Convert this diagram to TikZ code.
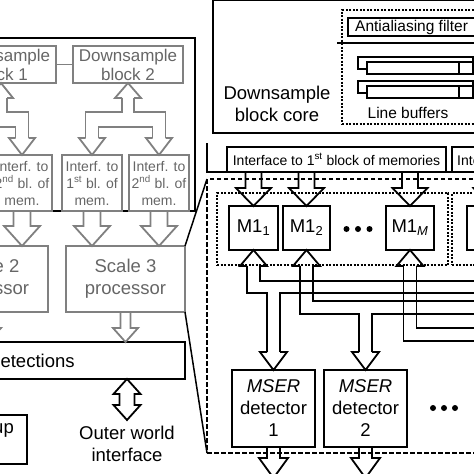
\documentclass[tikz,border=0pt]{standalone}
\usepackage{fontspec}
\setmainfont{Liberation Sans}
\usetikzlibrary{positioning,calc}

\definecolor{boxgray}{gray}{0.5}
\definecolor{txtgray}{gray}{0.4}

\newcommand{\fbig}{\fontsize{18.5}{22}\selectfont}
\newcommand{\fmid}{\fontsize{17}{19}\selectfont}
\newcommand{\fbuf}{\fontsize{15.5}{18}\selectfont}
\newcommand{\fsmall}{\fontsize{14}{17}\selectfont}

% hollow arrows: [style]{tip}{length}{shaft half gap}{head half width}{head length}
\newcommand{\arrdown}[6][]{\draw[#1,shift={#2}] (-#4,-#3) -- (-#4,-#6) -- (-#5,-#6) -- (0,0) -- (#5,-#6) -- (#4,-#6) -- (#4,-#3);}
\newcommand{\arrup}[6][]{\draw[#1,shift={#2}] (-#4,#3) -- (-#4,#6) -- (-#5,#6) -- (0,0) -- (#5,#6) -- (#4,#6) -- (#4,#3);}

\begin{document}
\begin{tikzpicture}[x=1pt,y=-1pt,
  graybox/.style={draw=boxgray, line width=1.8pt, text=txtgray, align=center, inner sep=0pt, outer sep=0pt},
  blkbox/.style={draw, line width=2.6pt, align=center, inner sep=0pt, outer sep=0pt},
  thinbox/.style={draw, line width=1.6pt, inner sep=0pt, outer sep=0pt},
  dotbox/.style={draw, line width=1.5pt, dash pattern=on 2pt off 1.5pt, inner sep=0pt, outer sep=0pt},
  dashbox/.style={draw, line width=2pt, dash pattern=on 4.5pt off 2.5pt, inner sep=0pt, outer sep=0pt},
  garrow/.style={draw=boxgray, line width=1.8pt},
  barrow/.style={line width=1.8pt},
  wire/.style={line width=1.8pt},
  txt/.style={align=center, inner sep=0pt}]
\useasboundingbox (0,0) rectangle (474,474);
\clip (0,0) rectangle (474,474);

% ---- left: downsample unit and scale processors
\node[blkbox, minimum width=205pt, minimum height=173pt] (dsunit) at (92.5,124.5) {};
\node[graybox, font=\fmid, minimum width=110pt, minimum height=37pt] (ds1) at (1,64.5) {Downsample\\block 1};
\node[graybox, font=\fmid, minimum width=110pt, minimum height=37pt] (ds2) at (128,64.5) {Downsample\\block 2};
\draw[garrow] (ds1) -- (ds2);

\coordinate (if0) at (-48,155);
\node[graybox, font=\fsmall, minimum width=60pt, minimum height=56pt] (if1) at (22,183) {Interf. to\\2\textsuperscript{nd} bl. of\\mem.};
\node[graybox, font=\fsmall, minimum width=60pt, minimum height=56pt] (if2) at (92,183) {Interf. to\\1\textsuperscript{st} bl. of\\mem.};
\node[graybox, font=\fsmall, minimum width=60pt, minimum height=56pt] (if3) at (159,183) {Interf. to\\2\textsuperscript{nd} bl. of\\mem.};

% forks from the downsample blocks
\arrup[garrow]{(ds1.south)}{15}{6}{12}{15}
\arrup[garrow]{(ds2.south)}{15}{6}{13}{15}
\arrdown[garrow]{(if1.north)}{17}{6.5}{13}{17}
\arrdown[garrow]{(if2.north)}{17}{6.5}{13}{17}
\arrdown[garrow]{(if3.north)}{17}{6.5}{13}{17}
\draw[garrow] ($(ds1.south)+(-6,15)$) |- ($(if0)+(-6.5,-43)$) -- ($(if0)+(-6.5,-17)$);
\draw[garrow] ($(if0)+(6.5,-17)$) |- ($(if1.north)+(-6.5,-28)$) -- ($(if1.north)+(-6.5,-17)$);
\draw[garrow] ($(ds1.south)+(6,15)$) |- ($(if1.north)+(6.5,-43)$) -- ($(if1.north)+(6.5,-17)$);
\draw[garrow] ($(ds2.south)+(-6,15)$) |- ($(if2.north)+(-6.5,-43)$) -- ($(if2.north)+(-6.5,-17)$);
\draw[garrow] ($(if2.north)+(6.5,-17)$) |- ($(if3.north)+(-6.5,-28)$) -- ($(if3.north)+(-6.5,-17)$);
\draw[garrow] ($(ds2.south)+(6,15)$) |- ($(if3.north)+(6.5,-43)$) -- ($(if3.north)+(6.5,-17)$);

\node[graybox, font=\fbig, minimum width=119pt, minimum height=66pt] (sc2) at (-11.5,279) {Scale 2\\processor};
\node[graybox, font=\fbig, minimum width=119pt, minimum height=66pt] (sc3) at (125.5,279) {Scale 3\\processor};
\arrdown[garrow]{(if1.south |- sc2.north)}{35}{8.5}{18}{20}
\arrdown[garrow]{(if2.south |- sc3.north)}{35}{8.5}{18}{20}
\arrdown[garrow]{(if3.south |- sc3.north)}{35}{8.5}{18}{20}

\node[blkbox, minimum width=195pt, minimum height=37pt] (det) at (87.5,360.5) {};
\node[txt, font=\fbig, anchor=west] (dettxt) at ([xshift=-3pt]det.west) {Detections};
\arrdown[garrow]{(sc2.south |- det.north)}{30}{5}{12.5}{14}
\arrdown[garrow]{(sc3.south |- det.north)}{30}{5}{12.5}{14}

\node[txt, font=\fbig] (outer) at (127,444) {Outer world\\interface};
\draw[barrow, shift={(outer.north |- det.south)}] (-7.5,15) -- (-13.5,15) -- (0,0) -- (13.5,15) -- (7.5,15)
  -- (7.5,26) -- (13.5,26) -- (0,41) -- (-13.5,26) -- (-7.5,26) -- cycle;

\node[blkbox, minimum width=37pt, minimum height=49pt] (setup) at (8.5,439.5) {};
\node[txt, font=\fbig, anchor=east] (setuptxt) at (14,429) {Setup};

% ---- right top: downsample block core
\node[blkbox, minimum width=270pt, minimum height=133.5pt] (core) at (348,66.25) {};
\node[txt, font=\fbig] (coretxt) at (277,104) {Downsample\\block core};
\node[dotbox, minimum width=140pt, minimum height=114pt] (flt) at (412,67) {};
\node[thinbox, minimum width=134pt, minimum height=18pt] (aa) at (415,27) {};
\node[txt, font=\fbuf, anchor=west] (aatxt) at ([xshift=7pt]aa.west) {Antialiasing filter};
\draw[line width=2pt] (337,43) -- (482,43);
\foreach \yb in {57,81} {
  \draw[line width=1.6pt] (358,\yb) rectangle (473,\yb+12);
  \draw[line width=1.6pt, fill=white] (367,\yb+5) rectangle (473,\yb+17);
  \draw[line width=1.6pt] (459,\yb+5) -- (459,\yb+17);
}
\node[txt, font=\fbuf] (buftxt) at (408,113) {Line buffers};

% ---- interfaces to the memory blocks
\draw[wire] (207,143) |- (482,172);
\node[thinbox, font=\fsmall, minimum width=219pt, minimum height=25pt] (ifm1) at (336.5,159.5) {Interface to 1\textsuperscript{st} block of memories};
\node[thinbox, minimum width=30pt, minimum height=25pt] (ifm2) at (467,159.5) {};
\node[txt, font=\fsmall, anchor=west] (ifm2txt) at ([xshift=5pt]ifm2.west) {Interface to 2\textsuperscript{nd} block of memories};

% ---- detail of the scale 3 processor
\node[dashbox, minimum width=276pt, minimum height=274pt] (detail) at (345,316) {};
\draw[line width=1.5pt] (detail.north west) -- (sc3.north east);
\draw[line width=1.5pt] (sc3.south east) -- (detail.south west);
\node[dotbox, minimum width=231pt, minimum height=72pt] (grp1) at (332.5,229) {};
\node[dotbox, minimum width=30pt, minimum height=72pt] (grp2) at (467,229) {};

\node[blkbox, font=\fbig, minimum width=49pt, minimum height=44pt] (m11) at (253.5,228) {M1\textsubscript{1}};
\node[blkbox, font=\fbig, minimum width=47pt, minimum height=44pt] (m12) at (306.5,228) {M1\textsubscript{2}};
\node[blkbox, font=\fbig, minimum width=48pt, minimum height=44pt] (m1m) at (410,228) {M1\textsubscript{\textit{M}}};
\node[blkbox, font=\fbig, minimum width=48pt, minimum height=44pt] (m21) at (491,228) {M2\textsubscript{1}};
\coordinate (dots1) at (358,229);
\foreach \dx in {-11.5,0,11.5} \fill ($(dots1)+(\dx,0)$) circle (3);

\arrdown[barrow]{(m11.north)}{34}{8}{17.5}{18}
\arrdown[barrow]{(m12.north)}{34}{8}{17.5}{18}
\arrdown[barrow]{(m1m.north)}{34}{8}{17.5}{18}
\arrdown[barrow]{(m21.north)}{34}{8}{17.5}{18}
\arrup[barrow]{(m11.south)}{16}{6.5}{13.5}{16}
\arrup[barrow]{(m12.south)}{16}{6.5}{13.5}{16}
\arrup[barrow]{(m1m.south)}{16}{6.5}{13.5}{16}

\node[blkbox, font=\fbig, minimum width=83pt, minimum height=77pt] (mser1) at (273.5,408.5) {\textit{MSER}\\detector\\1};
\node[blkbox, font=\fbig, minimum width=83pt, minimum height=77pt] (mser2) at (365.5,408.5) {\textit{MSER}\\detector\\2};
\coordinate (dots2) at (444,408);
\foreach \dx in {-11,0,11} \fill ($(dots2)+(\dx,0)$) circle (3);

\arrdown[barrow]{(mser1.north)}{18}{6.5}{13.5}{18}
\arrdown[barrow]{(mser2.north)}{18}{6.5}{13.5}{18}
\arrdown[barrow]{($(mser1.south)+(0,31)$)}{31}{6.5}{14.5}{20}
\arrdown[barrow]{($(mser2.south)+(0,31)$)}{31}{6.5}{14.5}{20}

% memory to detector buses
\draw[wire] ($(m11.south)+(6.5,16)$) |- (482,281);
\draw[wire] ($(m11.south)+(-6.5,16)$) |- ($(mser1.north)+(-6.5,-77)$) -- ($(mser1.north)+(-6.5,-18)$);
\draw[wire] ($(mser1.north)+(6.5,-18)$) |- (482,293);
\draw[wire] ($(m12.south)+(6.5,16)$) |- (482,301);
\draw[wire] ($(m12.south)+(-6.5,16)$) |- ($(mser2.north)+(-6.5,-56)$) -- ($(mser2.north)+(-6.5,-18)$);
\draw[wire] ($(mser2.north)+(6.5,-18)$) |- (482,314);
\draw[wire] ($(m1m.south)+(6.5,16)$) |- (482,328);
\draw[wire] ($(m1m.south)+(-6.5,16)$) |- (482,341);
\end{tikzpicture}
\end{document}
